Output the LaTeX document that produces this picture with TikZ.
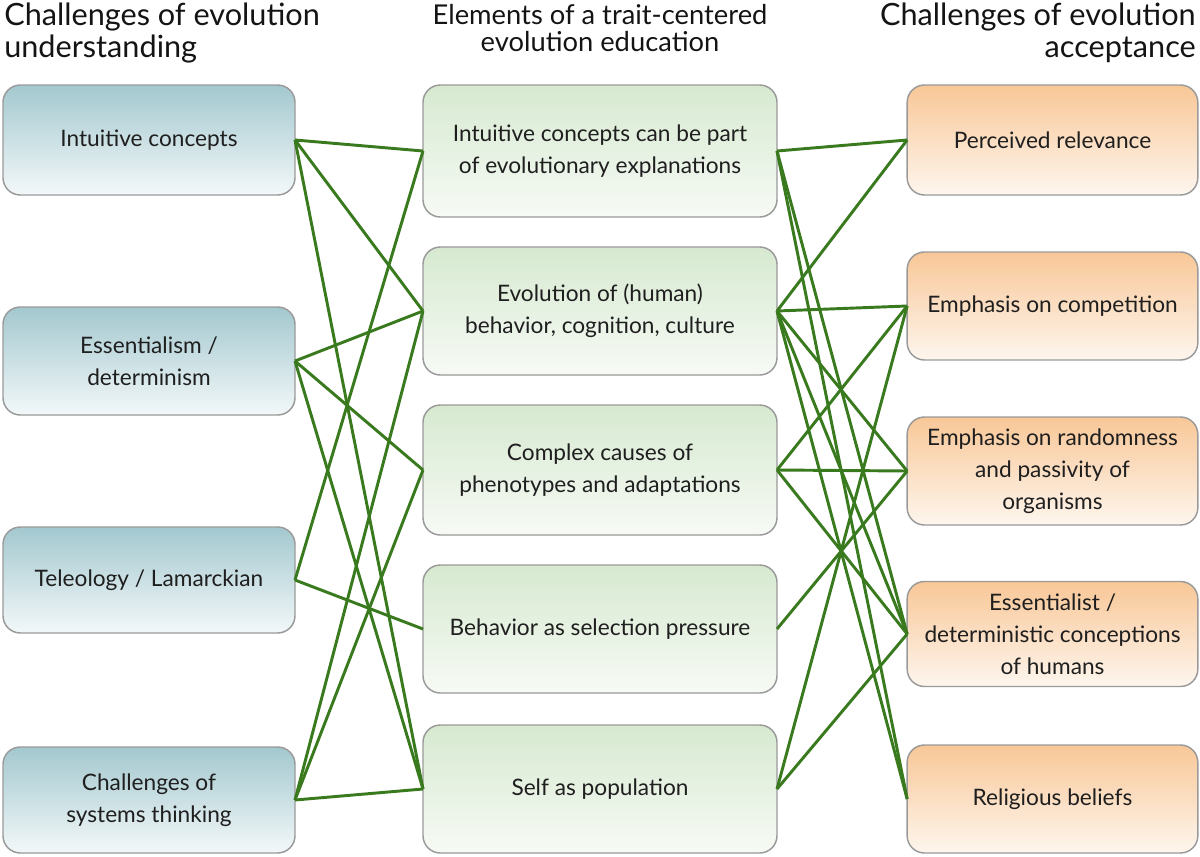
\documentclass[tikz,border=0pt]{standalone}
\usepackage{fontspec}
\setmainfont{Lato}
\definecolor{conn}{HTML}{3A7A1E}
\definecolor{edge}{HTML}{9A9A9A}
\definecolor{ltop}{HTML}{A3C8CF}
\definecolor{lbot}{HTML}{F3F8F9}
\definecolor{mtop}{HTML}{D6E9D0}
\definecolor{mbot}{HTML}{F7FAF5}
\definecolor{rtop}{HTML}{F8C797}
\definecolor{rbot}{HTML}{FEF6EE}
\tikzset{
  box/.style={draw=edge, line width=1.1pt, rounded corners=13pt, align=center,
    inner sep=2pt, outer sep=0pt, font=\fontsize{17}{24}\selectfont, text=black!88},
  lbox/.style={box, top color=ltop, bottom color=lbot, minimum width=219pt},
  mbox/.style={box, top color=mtop, bottom color=mbot, minimum width=265.5pt},
  rbox/.style={box, top color=rtop, bottom color=rbot, minimum width=218pt},
  sidetitle/.style={font=\fontsize{23}{24}\selectfont, text=black!92, inner sep=0pt},
  midtitle/.style={font=\fontsize{20.5}{20.5}\selectfont, text=black!92, inner sep=0pt},
  link/.style={draw=conn, line width=2.2pt}
}
\begin{document}
\begin{tikzpicture}[x=0.75pt,y=-0.75pt]
\useasboundingbox (0,0) rectangle (1200,857);
% titles
\node[sidetitle, anchor=north west, align=left] (t1) at (4,3) {Challenges of evolution\\understanding};
\node[midtitle, anchor=north, align=center] (t2) at (600,4) {Elements of a trait-centered\\evolution education};
\node[sidetitle, anchor=north east, align=right] (t3) at (1196,3) {Challenges of evolution\\acceptance};
% left boxes
\node[lbox, minimum height=82.5pt] (L1) at (149,140) {Intuitive concepts};
\node[lbox, minimum height=81pt] (L2) at (149,361) {Essentialism /\\determinism};
\node[lbox, minimum height=79.5pt] (L3) at (149,580) {Teleology / Lamarckian};
\node[lbox, minimum height=79.5pt] (L4) at (149,800) {Challenges of\\systems thinking};
% middle boxes
\node[mbox, minimum height=99pt] (M1) at (600,151) {Intuitive concepts can be part\\of evolutionary explanations};
\node[mbox, minimum height=96pt] (M2) at (600,311) {Evolution of (human)\\behavior, cognition, culture};
\node[mbox, minimum height=97.5pt] (M3) at (600,470) {Complex causes of\\phenotypes and adaptations};
\node[mbox, minimum height=96pt] (M4) at (600,629) {Behavior as selection pressure};
\node[mbox, minimum height=96pt] (M5) at (600,789) {Self as population};
% right boxes
\node[rbox, minimum height=82.5pt] (R1) at (1052.5,140) {Perceived relevance};
\node[rbox, minimum height=81pt] (R2) at (1052.5,306) {Emphasis on competition};
\node[rbox, minimum height=81pt] (R3) at (1052.5,471) {Emphasis on randomness\\and passivity of\\organisms};
\node[rbox, minimum height=78.75pt] (R4) at (1052.5,634) {Essentialist /\\deterministic conceptions\\of humans};
\node[rbox, minimum height=81pt] (R5) at (1052.5,799) {Religious beliefs};
% left connectors
\draw[link] (L1.east) -- (M1.west);
\draw[link] (L1.east) -- (M2.west);
\draw[link] (L1.east) -- (M5.west);
\draw[link] (L2.east) -- (M2.west);
\draw[link] (L2.east) -- (M3.west);
\draw[link] (L2.east) -- (M5.west);
\draw[link] (L3.east) -- (M1.west);
\draw[link] (L3.east) -- (M4.west);
\draw[link] (L4.east) -- (M2.west);
\draw[link] (L4.east) -- (M3.west);
\draw[link] (L4.east) -- (M5.west);
% right connectors
\draw[link] (M1.east) -- (R1.west);
\draw[link] (M1.east) -- (R4.west);
\draw[link] (M1.east) -- (R5.west);
\draw[link] (M2.east) -- (R1.west);
\draw[link] (M2.east) -- (R2.west);
\draw[link] (M2.east) -- (R3.west);
\draw[link] (M2.east) -- (R4.west);
\draw[link] (M2.east) -- (R5.west);
\draw[link] (M3.east) -- (R2.west);
\draw[link] (M3.east) -- (R3.west);
\draw[link] (M3.east) -- (R4.west);
\draw[link] (M4.east) -- (R3.west);
\draw[link] (M5.east) -- (R2.west);
\draw[link] (M5.east) -- (R4.west);
\end{tikzpicture}
\end{document}
